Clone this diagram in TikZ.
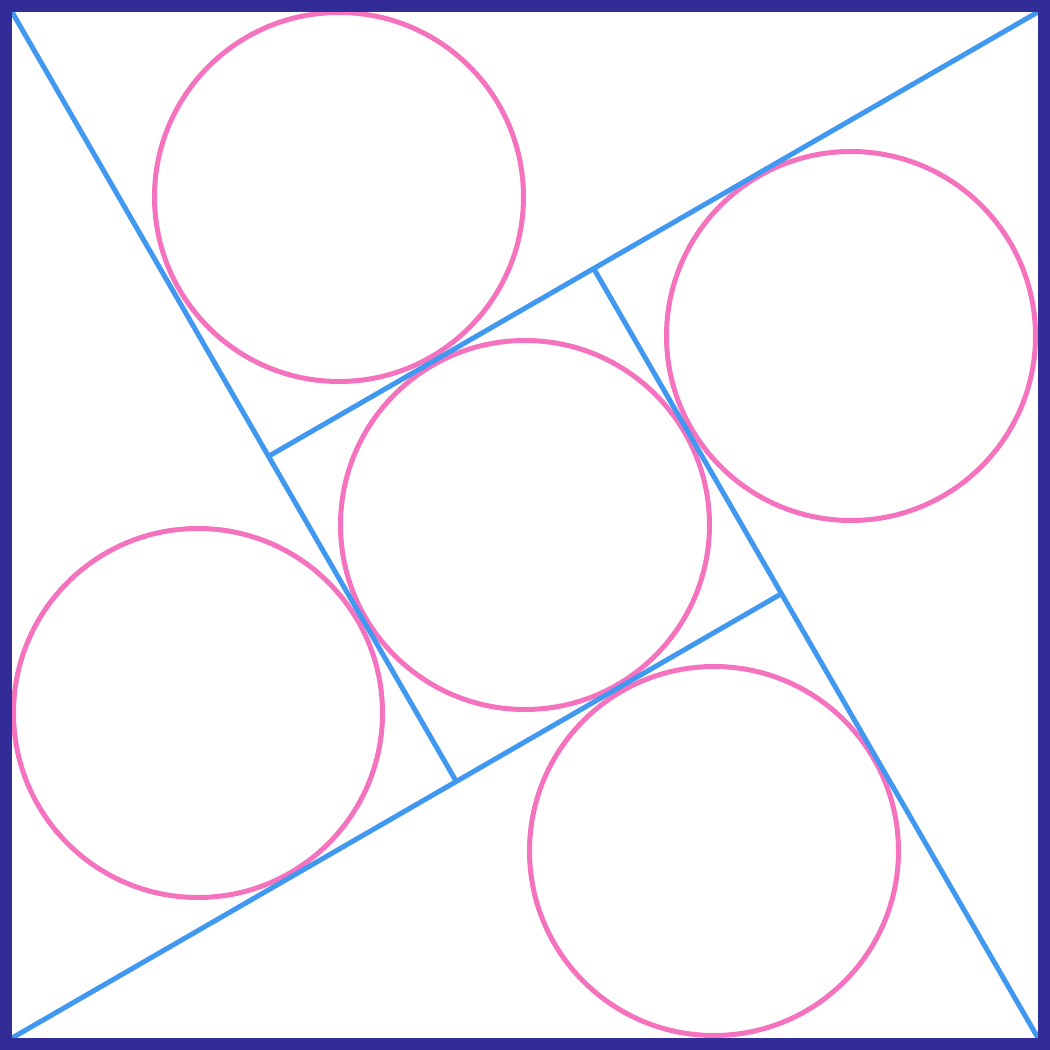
\documentclass[tikz,border=0pt]{standalone}
\usepackage{xcolor}
\usepackage{tikz}
\usetikzlibrary{positioning,calc}
\definecolor{FrameIndigo}{RGB}{50,45,150}
\definecolor{CutBlue}{RGB}{64,152,240}
\definecolor{RingPink}{RGB}{244,114,190}

\begin{document}
\begin{tikzpicture}[
                % Styles for the pieces
                frame/.style={draw=FrameIndigo, line width=0.12cm},
                cutline/.style={draw=CutBlue, line width=0.05cm},
                incircle/.style={draw=RingPink, line width=0.05cm}
            ]
                \useasboundingbox (-0.12,-0.12) rectangle (10.38,10.38);

                % --- CORNERS ---
                \coordinate (tl) at (0, 10.26);
                \coordinate (tr) at (10.26, 10.26);
                \coordinate (br) at (10.26, 0);
                \coordinate (bl) at (0, 0);

                % Inner square
                \coordinate (q1) at (4.443, 2.565);
                \coordinate (q2) at (7.695, 4.443);
                \coordinate (q3) at (5.817, 7.695);
                \coordinate (q4) at (2.565, 5.817);

                % --- CIRCLES ---
                \draw[incircle] (3.27, 8.41) circle (1.845);
                \draw[incircle] (8.39, 7.02) circle (1.845);
                \draw[incircle] (7.02, 1.87) circle (1.845);
                \draw[incircle] (1.86, 3.25) circle (1.845);
                \draw[incircle] (5.13, 5.13) circle (1.845);

                % --- CUTS ---
                \draw[cutline] (tl) -- (q1);
                \draw[cutline] (bl) -- (q2);
                \draw[cutline] (br) -- (q3);
                \draw[cutline] (tr) -- (q4);

                % Frame
                \draw[frame] (-0.06,-0.06) rectangle (10.32,10.32);

            \end{tikzpicture}
\end{document}
